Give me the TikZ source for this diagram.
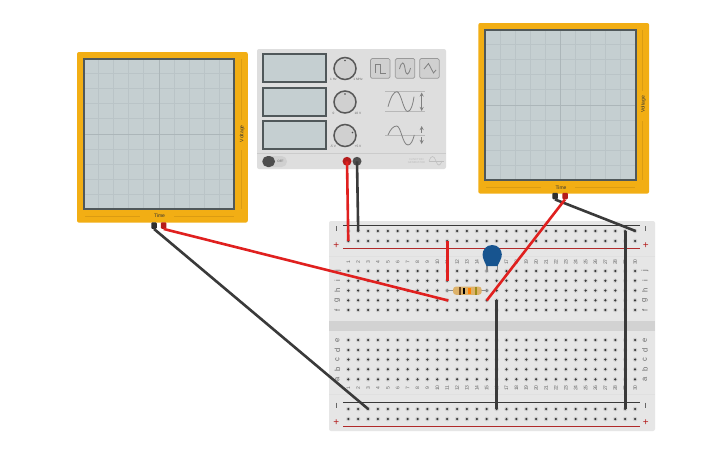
\documentclass[tikz,border=0pt]{standalone}
\usepackage{fontspec}
\setmainfont{Liberation Sans}
\definecolor{scopeor}{HTML}{F2AE14}
\definecolor{scopeln}{HTML}{DB9C12}
\definecolor{screenc}{HTML}{C5CFD1}
\definecolor{screenb}{HTML}{50585A}
\definecolor{gridl}{HTML}{BAC4C7}
\definecolor{gridm}{HTML}{ACB6B9}
\definecolor{genbody}{HTML}{DEDEDE}
\definecolor{genline}{HTML}{CBCBCB}
\definecolor{bbbody}{HTML}{E6E6E6}
\definecolor{bbdark}{HTML}{D2D2D2}
\definecolor{wired}{HTML}{E0201F}
\definecolor{railred}{HTML}{B02A2A}
\definecolor{wireb}{HTML}{3A3A3A}
\definecolor{holeh}{HTML}{D2D2D2}
\definecolor{knobc}{HTML}{D0D0D0}
\definecolor{lblc}{HTML}{666666}
\definecolor{capb}{HTML}{17548F}
\definecolor{resb}{HTML}{DDB26A}
\definecolor{probek}{HTML}{2F2F2F}
\definecolor{prober}{HTML}{B51C1C}
\tikzset{
 scopebody/.style={fill=scopeor,draw=none,rounded corners=2pt},
 screenbox/.style={draw=screenb,line width=2pt},
 gridthin/.style={draw=gridl,line width=.9pt},
 gridmain/.style={draw=gridm,line width=1pt},
 scopeaxis/.style={draw=scopeln,line width=.6pt},
 scopelbl/.style={font=\fontsize{5}{5}\selectfont,text=black!80,inner sep=.5pt},
 knob/.style={circle,fill=knobc,draw=wireb!85,line width=1.5pt,minimum size=22pt,inner sep=0pt},
 btn/.style={fill=knobc,draw=black!40,line width=.7pt,rounded corners=1.5pt},
 wave/.style={draw=black!50,line width=.8pt},
 waveguide/.style={draw=black!28,line width=.8pt},
 tiny/.style={font=\fontsize{3.2}{3}\selectfont,text=black!60,inner sep=0pt},
 wirer/.style={draw=wired,line width=2.6pt},
 wirek/.style={draw=wireb,line width=2.6pt},
 bblbl/.style={font=\fontsize{7.5}{8}\selectfont,text=lblc,rotate=90,inner sep=0pt},
 bbnum/.style={font=\fontsize{5}{5}\selectfont,text=lblc,rotate=90,inner sep=0pt},
 railsign/.style={font=\fontsize{10}{10}\selectfont,inner sep=0pt},
 probe/.style={rounded corners=1pt,minimum width=5.5pt,minimum height=6.5pt,inner sep=0pt},
 term/.style={circle,minimum size=9pt,inner sep=0pt},
}
\begin{document}
\begin{tikzpicture}[x=1pt,y=-1pt]
\useasboundingbox (0,0) rectangle (725,453);
\fill[white] (0,0) rectangle (725,453);

%% scopes
\foreach \ox/\oy in {77/52,478.3/23}{
 \begin{scope}[shift={(\ox,\oy)}]
  \fill[scopebody] (0,0) rectangle (170.8,170.6);
  \fill[screenc] (6.6,6.6) rectangle (157.4,157.4);
  \foreach \i in {1,2,3,4,6,7,8,9}{
   \draw[gridthin] (6.6+\i*15.08,6.6) -- (6.6+\i*15.08,157.4);
   \draw[gridthin] (6.6,6.6+\i*15.08) -- (157.4,6.6+\i*15.08);
  }
  \draw[gridmain] (82,6.6) -- (82,157.4);
  \draw[gridmain] (6.6,82) -- (157.4,82);
  \draw[screenbox] (6.6,6.6) rectangle (157.4,157.4);
  \draw[scopeaxis] (8,164.3) -- (63,164.3);
  \draw[scopeaxis] (97,164.3) -- (156.5,164.3);
  \draw[scopeaxis] (164.3,6.5) -- (164.3,68);
  \draw[scopeaxis] (164.3,98) -- (164.3,157);
 \end{scope}
}
\node[scopelbl] (timea) at (159.5,216.2) {Time};
\node[scopelbl,rotate=90] (volta) at (242,133.7) {Voltage};
\node[scopelbl] (timeb) at (561,187.3) {Time};
\node[scopelbl,rotate=90] (voltb) at (643.3,104.5) {Voltage};

%% function generator
\fill[genbody,rounded corners=2pt] (257,49) rectangle (446,169);
\draw[genline,line width=.7pt] (257,153) -- (446,153);
\foreach \t/\b in {54.3/82.3,87.7/116,121/149.3}
 \draw[fill=screenc,draw=screenb,line width=2pt] (262.7,\t) rectangle (326.3,\b);
\node[knob] (knoba) at (345,68.5) {};
\node[knob] (knobb) at (345,102) {};
\node[knob] (knobc) at (345,135.5) {};
\fill[black!70] (345,60.5) circle (.9pt) (345,94) circle (.9pt) (352.5,132.5) circle (.9pt);
\node[tiny] (ka1) at (333.5,79.5) {1 Hz};
\node[tiny] (ka2) at (358,79.5) {1 MHz};
\node[tiny] (kb1) at (333.5,113) {0};
\node[tiny] (kb2) at (358,113) {10 V};
\node[tiny] (kc1) at (333,146.5) {-5 V};
\node[tiny] (kc2) at (358,146.5) {+5 V};
\foreach \l in {370.5,395.3,419.7}
 \draw[btn] (\l,58.5) rectangle ++(19.5,19.8);
\draw[wave] (375,73) -- (375,64) -- (380.3,64) -- (380.3,73) -- (385.5,73);
\draw[wave] (399.5,69) .. controls (401.5,61) and (404,61) .. (405,68.5) .. controls (406,76) and (408.5,76) .. (410.5,68);
\draw[wave] (424,69) -- (428.5,63.5) -- (433.5,73) -- (436,70);
\draw[waveguide] (385,91.7) -- (425,91.7) (385,111.7) -- (425,111.7);
\draw[wave] (388,106.7) .. controls (391,96) and (394,91.5) .. (397,91.7) .. controls (401,92) and (403.5,111.5) .. (407.7,111.5) .. controls (411,111.5) and (413,104) .. (414,96.7);
\draw[wave,<->,>=stealth] (421.7,92.5) -- (421.7,111);
\draw[waveguide] (385,135) -- (425,135);
\draw[wave] (388,135) .. controls (390.5,129) and (393.5,126) .. (396.7,126) .. controls (401,126) and (402.5,145) .. (408,145) .. controls (411,145) and (413,140) .. (414.3,135);
\draw[wave,->,>=stealth] (421.7,133) -- (421.7,126);
\draw[wave,->,>=stealth] (421.7,137) -- (421.7,144);
\fill[knobc,rounded corners=5.4pt] (262,156) rectangle (287,167);
\fill[wireb!90,rounded corners=5.4pt] (262.3,156) rectangle (275,167);
\node[tiny] (offl) at (280.5,161.5) {OFF};
\node[font=\fontsize{2.8}{3}\selectfont,text=black!25,align=center,inner sep=0pt] (genname) at (416.5,161) {FUNCTION\\GENERATOR};
\draw[black!25,line width=.6pt] (429,161) -- (444,161);
\draw[black!25,line width=.6pt] (429,161) .. controls (431,155) and (434,155) .. (436,161) .. controls (438,167) and (440,166) .. (442,161);

%% breadboard
\fill[bbbody,rounded corners=2pt] (329,221) rectangle (655,431);
\fill[bbdark] (329,321) rectangle (655,331);
\draw[white!88!black,line width=.8pt] (329,256.5) -- (655,256.5) (329,394) -- (655,394);
\foreach \y in {231,241,271,280.7,290.5,300.3,310,340,350,359.5,369.3,379.3,409,419}{
 \foreach \c in {0,...,29}{
  \fill[holeh] ({348.3+\c*9.887},\y) circle (2.3pt);
  \fill[black!78] ({348.3+\c*9.887},\y) circle (1.25pt);
 }
}
\draw[wireb,line width=1pt] (343,225) -- (640,225) (343,402.3) -- (640,402.3);
\draw[railred,line width=1pt] (343,248.3) -- (640,248.3) (343,426.3) -- (640,426.3);
\foreach \x in {336.3,645.8}{
 \draw[lblc,line width=.7pt] (\x,226) -- (\x,231);
 \draw[lblc,line width=.7pt] (\x,402.5) -- (\x,407.5);
}
\node[railsign,text=wired!80!black] (pa) at (336.3,245.6) {+};
\node[railsign,text=wired!80!black] (pb) at (645.8,245.6) {+};
\node[railsign,text=wired!80!black] (pc) at (336.3,422.5) {+};
\node[railsign,text=wired!80!black] (pd) at (645.8,422.5) {+};
\foreach \x/\s in {337.5/l,645/r}{
 \foreach \y/\t in {271/j,280.7/i,290.5/h,300.3/g,310/f,340/e,350/d,359.5/c,369.3/b,379.3/a}
  \node[bblbl] (lbl\s\t) at (\x,\y) {\t};
}
\foreach \c in {1,...,30}{
 \node[bbnum] (nt\c) at ({348.3+(\c-1)*9.887},262) {\c};
 \node[bbnum] (nb\c) at ({348.3+(\c-1)*9.887},388) {\c};
}

%% resistor
\draw[black!45,line width=1.1pt] (447.2,290.6) -- (487,290.6);
\fill[black!45] (447.2,290.6) circle (1.4pt) (487,290.6) circle (1.4pt);
\fill[resb,rounded corners=3pt] (453,286.6) rectangle (481.7,294.8);
\fill[brown!60!black] (458.5,286.8) rectangle (460.5,294.6);
\fill[black] (462.8,287.5) rectangle (465,293.9);
\fill[orange] (467.5,287.5) rectangle (470.5,293.9);
\fill[olive!70!brown] (475.2,286.8) rectangle (476.6,294.6);

%% capacitor
\draw[black!45,line width=1.4pt] (486.8,262) -- (486.8,272);
\draw[black!45,line width=1.4pt] (497.3,262) -- (497.3,272);
\fill[capb] (492.2,245) .. controls (486,245) and (482.6,250) .. (482.6,254.5)
  .. controls (482.6,259) and (485,262) .. (486.5,266) -- (497.5,266)
  .. controls (499,262) and (501.8,259) .. (501.8,254.5)
  .. controls (501.8,250) and (498.4,245) .. (492.2,245) -- cycle;

%% probes and terminals
\node[probe,fill=probek] (pak) at (154,225.5) {};
\node[probe,fill=prober] (par) at (163.7,225.5) {};
\node[probe,fill=probek] (pbk) at (555,196) {};
\node[probe,fill=prober] (pbr) at (565,196) {};
\node[term,fill=prober] (gr) at (347,161.3) {};
\node[term,fill=wireb!90] (gk) at (357,161.3) {};

%% wire end points
\coordinate (r1) at (348.3,241);
\coordinate (k1) at (358.2,231);
\coordinate (r2a) at (447.6,241);
\coordinate (r2b) at (447.6,281);
\coordinate (ra) at (448.3,300.5);
\coordinate (ka) at (368.2,409);
\coordinate (rb) at (486.7,300.5);
\coordinate (kb) at (635.5,231);
\coordinate (k3a) at (496.6,300.3);
\coordinate (k3b) at (496.6,409);
\coordinate (k4a) at (625.5,231);
\coordinate (k4b) at (625.5,409);

%% wires
\draw[wirer] (gr.center) -- (r1);
\draw[wirek] (gk.center) -- (k1);
\draw[wirer] (r2a) -- (r2b);
\draw[wirer] (par.south) -- (ra);
\draw[wirek] (pak.south) -- (ka);
\draw[wirek] (k3a) -- (k3b);
\draw[wirek] (k4a) -- (k4b);
\draw[wirek] (pbk.south) -- (kb);
\draw[wirer] (pbr.south) -- (rb);
\end{tikzpicture}
\end{document}
